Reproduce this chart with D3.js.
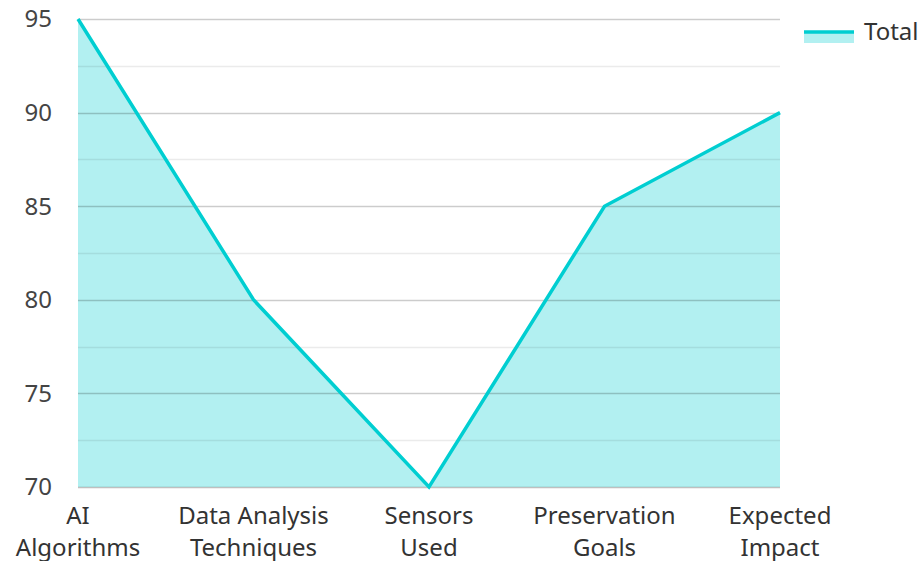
<!DOCTYPE html>
<html><head><meta charset="utf-8">
<script src="https://cdn.jsdelivr.net/npm/d3@7"></script>
<style>body{margin:0;background:#fff}svg{display:block;font-family:"Noto Sans",sans-serif}</style>
</head><body>
<svg id="c" width="920" height="561"></svg>
<script>
const categories = [["AI","Algorithms"],["Data Analysis","Techniques"],["Sensors","Used"],["Preservation","Goals"],["Expected","Impact"]];
const values = [95, 80, 70, 85, 90];
const yTicks = [70, 75, 80, 85, 90, 95];
const yMinor = [72.5, 77.5, 82.5, 87.5, 92.5];
const seriesName = "Total";

(function(){
const svg = d3.select("#c");
const pL = 78, pR = 780, pT = 19, pB = 487;
const x = d3.scalePoint().domain(d3.range(categories.length)).range([pL, pR]);
const y = d3.scaleLinear().domain([70, 95]).range([pB, pT]);
const color = "#00CED1";

const area = d3.area().x((d,i)=>x(i)).y0(pB).y1(d=>y(d));
const line = d3.line().x((d,i)=>x(i)).y(d=>y(d));

svg.append("path").datum(values).attr("d", area).attr("fill", color).attr("fill-opacity", 0.3);

const g = svg.append("g");
g.selectAll(".minor").data(yMinor).join("line")
  .attr("x1", pL).attr("x2", pR).attr("y1", d=>Math.round(y(d))+0.5).attr("y2", d=>Math.round(y(d))+0.5)
  .attr("stroke", "#000").attr("stroke-opacity", 0.08).attr("stroke-width", 1.5);
g.selectAll(".major").data(yTicks).join("line")
  .attr("x1", pL).attr("x2", pR).attr("y1", d=>Math.round(y(d))+0.5).attr("y2", d=>Math.round(y(d))+0.5)
  .attr("stroke", "#000").attr("stroke-opacity", d=>d===70?0.25:0.2).attr("stroke-width", 1.5);

svg.append("path").datum(values).attr("d", line).attr("fill", "none").attr("stroke", color).attr("stroke-width", 3.5);

svg.selectAll(".yl").data(yTicks).join("text")
  .attr("x", 52).attr("y", d=>y(d)).attr("dy", "0.35em").attr("text-anchor", "end")
  .attr("font-size", 24).attr("fill", "#444").text(d=>d);

const xl = svg.selectAll(".xl").data(categories).join("text")
  .attr("text-anchor", "middle").attr("font-size", 24).attr("fill", "#333");
xl.each(function(d,i){
  const t = d3.select(this);
  d.forEach((s,j)=>t.append("tspan").attr("x", x(i)).attr("y", 524 + j*32).text(s));
});

const lg = svg.append("g");
lg.append("rect").attr("x", 804).attr("y", 31).attr("width", 50).attr("height", 12).attr("fill", color).attr("fill-opacity", 0.3);
lg.append("line").attr("x1", 804).attr("x2", 854).attr("y1", 32).attr("y2", 32).attr("stroke", color).attr("stroke-width", 3.5);
lg.append("text").attr("x", 864).attr("y", 40).attr("font-size", 24).attr("fill", "#333").text(seriesName);
})();
</script>
</body></html>
